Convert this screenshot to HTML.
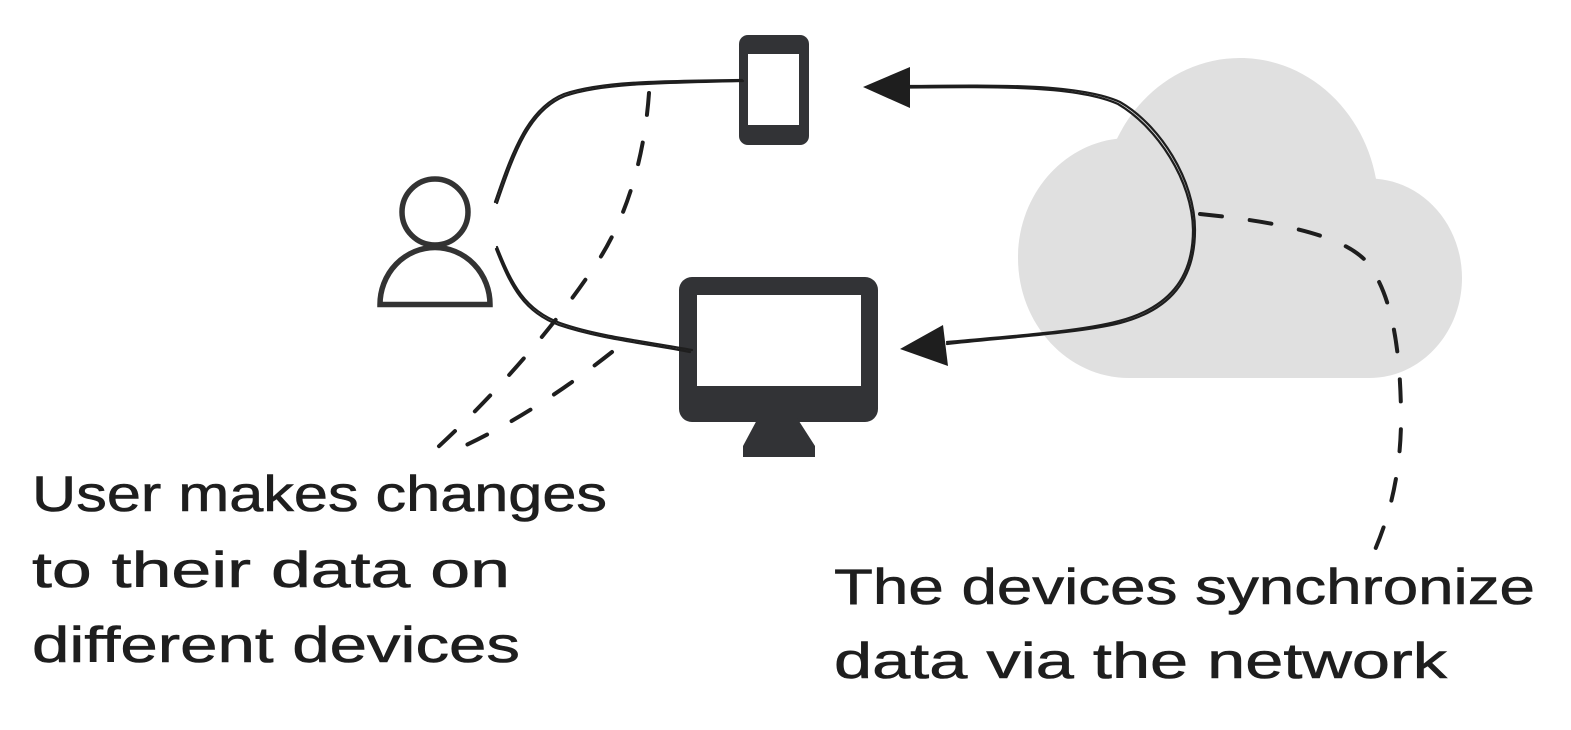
<!DOCTYPE html>
<html>
<head>
<meta charset="utf-8">
<style>
  html, body { margin: 0; padding: 0; background: #ffffff; }
  body { width: 1571px; height: 730px; overflow: hidden; }
  svg { display: block; }
  text { font-family: "Liberation Sans", sans-serif; fill: #1e1e1e; font-size: 50px; stroke: #1e1e1e; stroke-width: 0.6; }
</style>
</head>
<body>
<svg width="1571" height="730" viewBox="0 0 1571 730" xmlns="http://www.w3.org/2000/svg">
  <rect x="0" y="0" width="1571" height="730" fill="#ffffff"/>

  <!-- Cloud -->
  <g transform="translate(1018,-22) scale(18.5,20)">
    <path fill="#e0e0e0" d="M19.35 10.04C18.67 6.59 15.64 4 12 4 9.11 4 6.6 5.64 5.35 8.04 2.34 8.36 0 10.91 0 14c0 3.31 2.69 6 6 6h13c2.76 0 5-2.24 5-5 0-2.64-2.05-4.78-4.65-4.96z"/>
  </g>

  <!-- User icon -->
  <g fill="none" stroke="#333333" stroke-width="5.5">
    <circle cx="435" cy="212" r="33"/>
    <path d="M380,304.5 A55,57 0 0 1 490,304.5 Z"/>
  </g>

  <!-- Phone -->
  <rect x="739" y="35" width="70" height="110" rx="9" fill="#323336"/>
  <rect x="748" y="54" width="51" height="71" fill="#ffffff"/>

  <!-- Monitor -->
  <rect x="679" y="277" width="199" height="145" rx="13" fill="#323336"/>
  <rect x="697" y="295" width="164" height="91" fill="#ffffff"/>
  <polygon points="758,418 797,418 815,446 815,457 743,457 743,446" fill="#323336"/>

  <!-- User -> phone / monitor lines (double stroke) -->
  <g fill="none" stroke="#1e1e1e" stroke-width="2.2" stroke-linecap="round">
    <path d="M497,203 C515,150 530,110 565,96 C600,84 650,83 743,81"/>
    <path d="M495,202 C513,149 529,108 564,94 C600,82 650,81 742,80"/>
    <path d="M497,247 C512,285 525,310 560,323 C600,337 650,342 692,350"/>
    <path d="M496,249 C511,287 524,312 559,325 C600,339 650,344 690,352"/>
  </g>

  <!-- Cloud -> devices loop (double stroke) -->
  <g fill="none" stroke="#1e1e1e" stroke-width="2.2" stroke-linecap="round">
    <path d="M910,86 C1000,85 1080,84 1120,102 C1160,125 1195,180 1195,230 C1195,280 1170,310 1120,323 C1080,333 1000,338 947,344"/>
    <path d="M910,87.5 C1000,86.5 1078,86 1118,104 C1157,127 1192.5,181 1193,230 C1193,279 1168,308 1119,321 C1079,332 1000,337 947,342"/>
  </g>
  <polygon points="863,87 910,67 910,108" fill="#1e1e1e"/>
  <polygon points="900,349 943,325 948,366" fill="#1e1e1e"/>

  <!-- Dashed connectors -->
  <g fill="none" stroke="#1e1e1e" stroke-width="4" stroke-linecap="round" stroke-dasharray="22 28">
    <path d="M649,93 C645,150 630,210 600,258 C560,320 500,390 437,448"/>
    <path d="M612,352 C570,385 520,420 460,448"/>
    <path d="M1200,214 C1280,222 1340,235 1365,260 C1395,295 1400,360 1401,410 C1402,470 1390,520 1368,565"/>
  </g>

  <!-- Labels -->
  <text x="32" y="511" textLength="575" lengthAdjust="spacingAndGlyphs">User makes changes</text>
  <text x="32" y="587" textLength="478" lengthAdjust="spacingAndGlyphs">to their data on</text>
  <text x="32" y="662" textLength="488" lengthAdjust="spacingAndGlyphs">different devices</text>

  <text x="834" y="604" textLength="701" lengthAdjust="spacingAndGlyphs">The devices synchronize</text>
  <text x="834" y="678" textLength="613" lengthAdjust="spacingAndGlyphs">data via the network</text>
</svg>
</body>
</html>
